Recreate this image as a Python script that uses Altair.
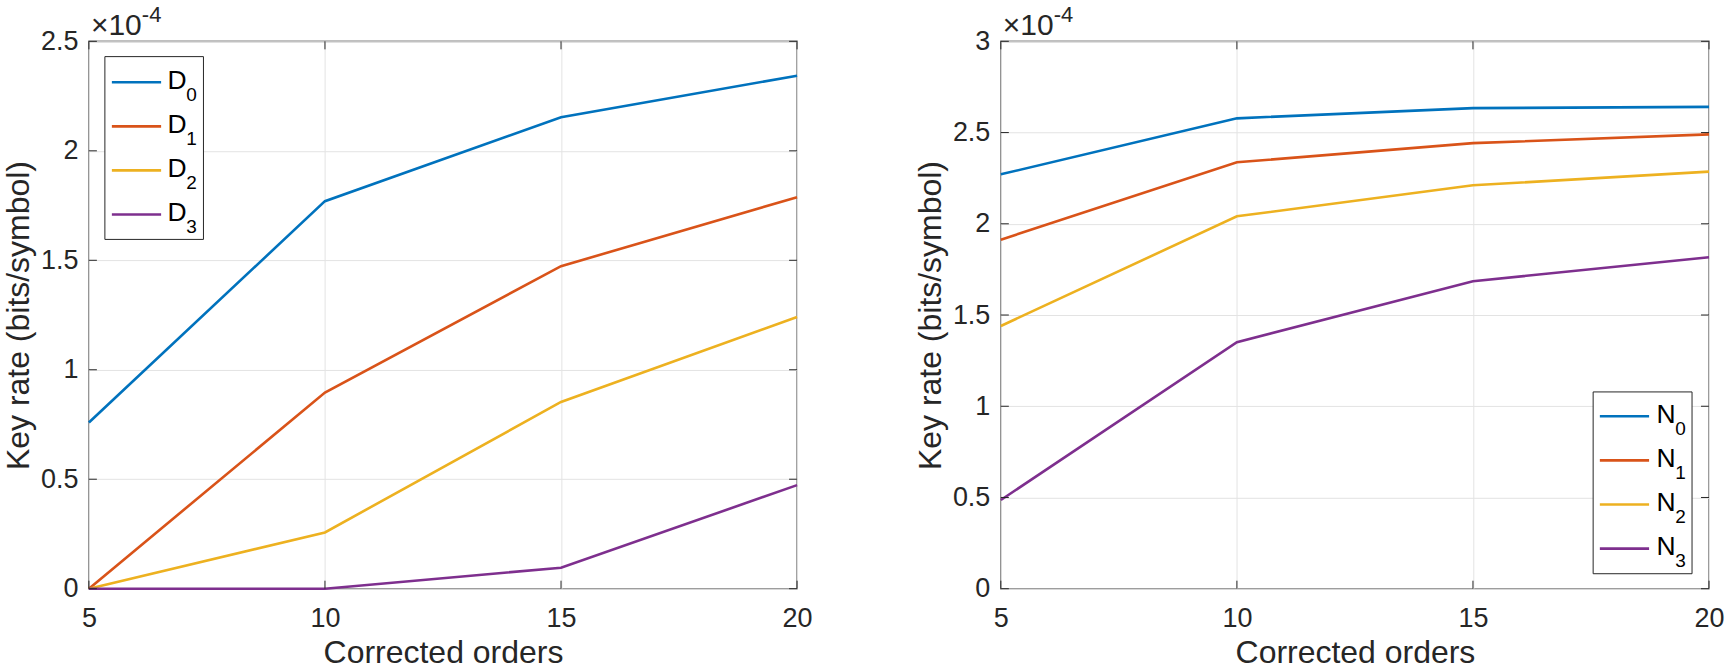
import altair as alt
import pandas as pd

# Corrected orders on the x axis
orders = [5, 10, 15, 20]

# Key rates in units of 1e-4 bits/symbol
D0 = [0.759, 1.770, 2.153, 2.343]
D1 = [0.0, 0.896, 1.473, 1.788]
D2 = [0.0, 0.257, 0.853, 1.241]
D3 = [0.0, 0.0, 0.096, 0.473]

N0 = [2.271, 2.578, 2.634, 2.641]
N1 = [1.913, 2.337, 2.442, 2.490]
N2 = [1.440, 2.041, 2.211, 2.286]
N3 = [0.486, 1.351, 1.685, 1.817]

subscripts = ["0", "1", "2", "3"]
x_ticks = [5, 10, 15, 20]
left_y_ticks = [0, 0.5, 1, 1.5, 2, 2.5]
right_y_ticks = [0, 0.5, 1, 1.5, 2, 2.5, 3]
exponent_base = "×10"
exponent_power = "-4"
x_title = "Corrected orders"
y_title = "Key rate (bits/symbol)"

colors = ["#0072BD", "#D95319", "#EDB120", "#7E2F8E"]

W, H = 709, 548
FONT = "Liberation Sans"
INK = "#262626"
TICK = 8
LINE_W = 2.6


def panel(prefix, series, y_max, y_ticks, box, line_x, text_x, row0, row_step):
    names = [prefix + s for s in subscripts]
    rows = []
    for name, vals in zip(names, series):
        for o, v in zip(orders, vals):
            rows.append({"order": o, "series": name, "rate": v})
    df = pd.DataFrame(rows)

    xs = alt.Scale(domain=[orders[0], orders[-1]], nice=False, zero=False)
    ys = alt.Scale(domain=[0, y_max], nice=False)
    cs = alt.Scale(domain=names, range=colors)

    x_axis = alt.Axis(values=x_ticks, format="d", grid=True, labelPadding=17,
                      labelFlush=False, title=x_title, titleY=74,
                      titleBaseline="alphabetic")
    y_axis = alt.Axis(values=y_ticks, format="~g", grid=True, labelPadding=11,
                      title=y_title, titleX=-60, titleBaseline="alphabetic")

    X = lambda: alt.X("order:Q", scale=xs, axis=x_axis)
    Y = lambda: alt.Y("rate:Q", scale=ys, axis=y_axis)

    lines = alt.Chart(df).mark_line(strokeWidth=LINE_W).encode(
        x=X(), y=Y(),
        color=alt.Color("series:N", scale=cs, legend=None),
    )

    # inward tick marks on all four sides
    yt = pd.DataFrame({"rate": y_ticks})
    xt = pd.DataFrame({"order": x_ticks})
    tick_style = dict(color=INK, strokeWidth=1)
    yl = alt.Chart(yt).mark_rule(**tick_style).encode(
        y=Y(), x=alt.value(0), x2=alt.value(TICK))
    yr = alt.Chart(yt).mark_rule(**tick_style).encode(
        y=Y(), x=alt.value(W - TICK), x2=alt.value(W))
    xb = alt.Chart(xt).mark_rule(**tick_style).encode(
        x=X(), y=alt.value(H - TICK), y2=alt.value(H))
    xtop = alt.Chart(xt).mark_rule(**tick_style).encode(
        x=X(), y=alt.value(0), y2=alt.value(TICK))

    # exponent label above the y axis
    one = pd.DataFrame({"k": [0]})
    exp_base = alt.Chart(one).mark_text(
        align="left", baseline="alphabetic", font=FONT, fontSize=30, color=INK
    ).encode(x=alt.value(2), y=alt.value(-6), text=alt.value(exponent_base))
    exp_pow = alt.Chart(one).mark_text(
        align="left", baseline="alphabetic", font=FONT, fontSize=22, color=INK
    ).encode(x=alt.value(53), y=alt.value(-19), text=alt.value(exponent_power))

    # legend
    bx1, by1, bx2, by2 = box
    frame = alt.Chart(one).mark_rect(fill="white", stroke=INK, strokeWidth=1).encode(
        x=alt.value(bx1), x2=alt.value(bx2), y=alt.value(by1), y2=alt.value(by2))
    leg = pd.DataFrame({"series": names, "idx": list(range(len(names))),
                        "sub": subscripts, "letter": [prefix] * len(names)})
    base = alt.Chart(leg).transform_calculate(
        ry=f"{row0} + datum.idx * {row_step}",
        ly=f"{row0} + datum.idx * {row_step} + 6.5",
        sy=f"{row0} + datum.idx * {row_step} + 18.5",
    )
    samples = base.mark_rule(strokeWidth=LINE_W).encode(
        y=alt.Y("ry:Q", scale=None), x=alt.value(line_x[0]), x2=alt.value(line_x[1]),
        color=alt.Color("series:N", scale=cs, legend=None))
    letters = base.mark_text(align="left", baseline="alphabetic", font=FONT,
                             fontSize=26.5, color="black").encode(
        y=alt.Y("ly:Q", scale=None), x=alt.value(text_x), text="letter:N")
    subs = base.mark_text(align="left", baseline="alphabetic", font=FONT,
                          fontSize=19, color="black").encode(
        y=alt.Y("sy:Q", scale=None), x=alt.value(text_x + 18.8), text="sub:N")

    return alt.layer(lines, yl, yr, xb, xtop, exp_base, exp_pow,
                     frame, samples, letters, subs).properties(width=W, height=H)


left = panel("D", [D0, D1, D2, D3], 2.5, left_y_ticks,
             box=(16, 15.3, 114.7, 198.3), line_x=(23, 72.3), text_x=78.7,
             row0=41, row_step=44.1)
right = panel("N", [N0, N1, N2, N3], 3, right_y_ticks,
              box=(593, 351, 692, 533), line_x=(599.7, 649), text_x=656.3,
              row0=375.3, row_step=44.2)

chart = alt.hconcat(left, right, spacing=204, bounds="flush").properties(
    padding={"left": 2, "top": 3, "right": 0, "bottom": 0}
).configure_view(
    stroke="#808080", strokeWidth=1.6
).configure_axis(
    labelFont=FONT, labelFontSize=27, labelColor=INK,
    titleFont=FONT, titleFontSize=32, titleFontWeight="normal", titleColor=INK,
    domain=False, ticks=False, tickSize=0,
    gridColor="#e3e3e3", gridWidth=1,
)

chart.save("out.html", embed_options={"renderer": "svg", "actions": False})
